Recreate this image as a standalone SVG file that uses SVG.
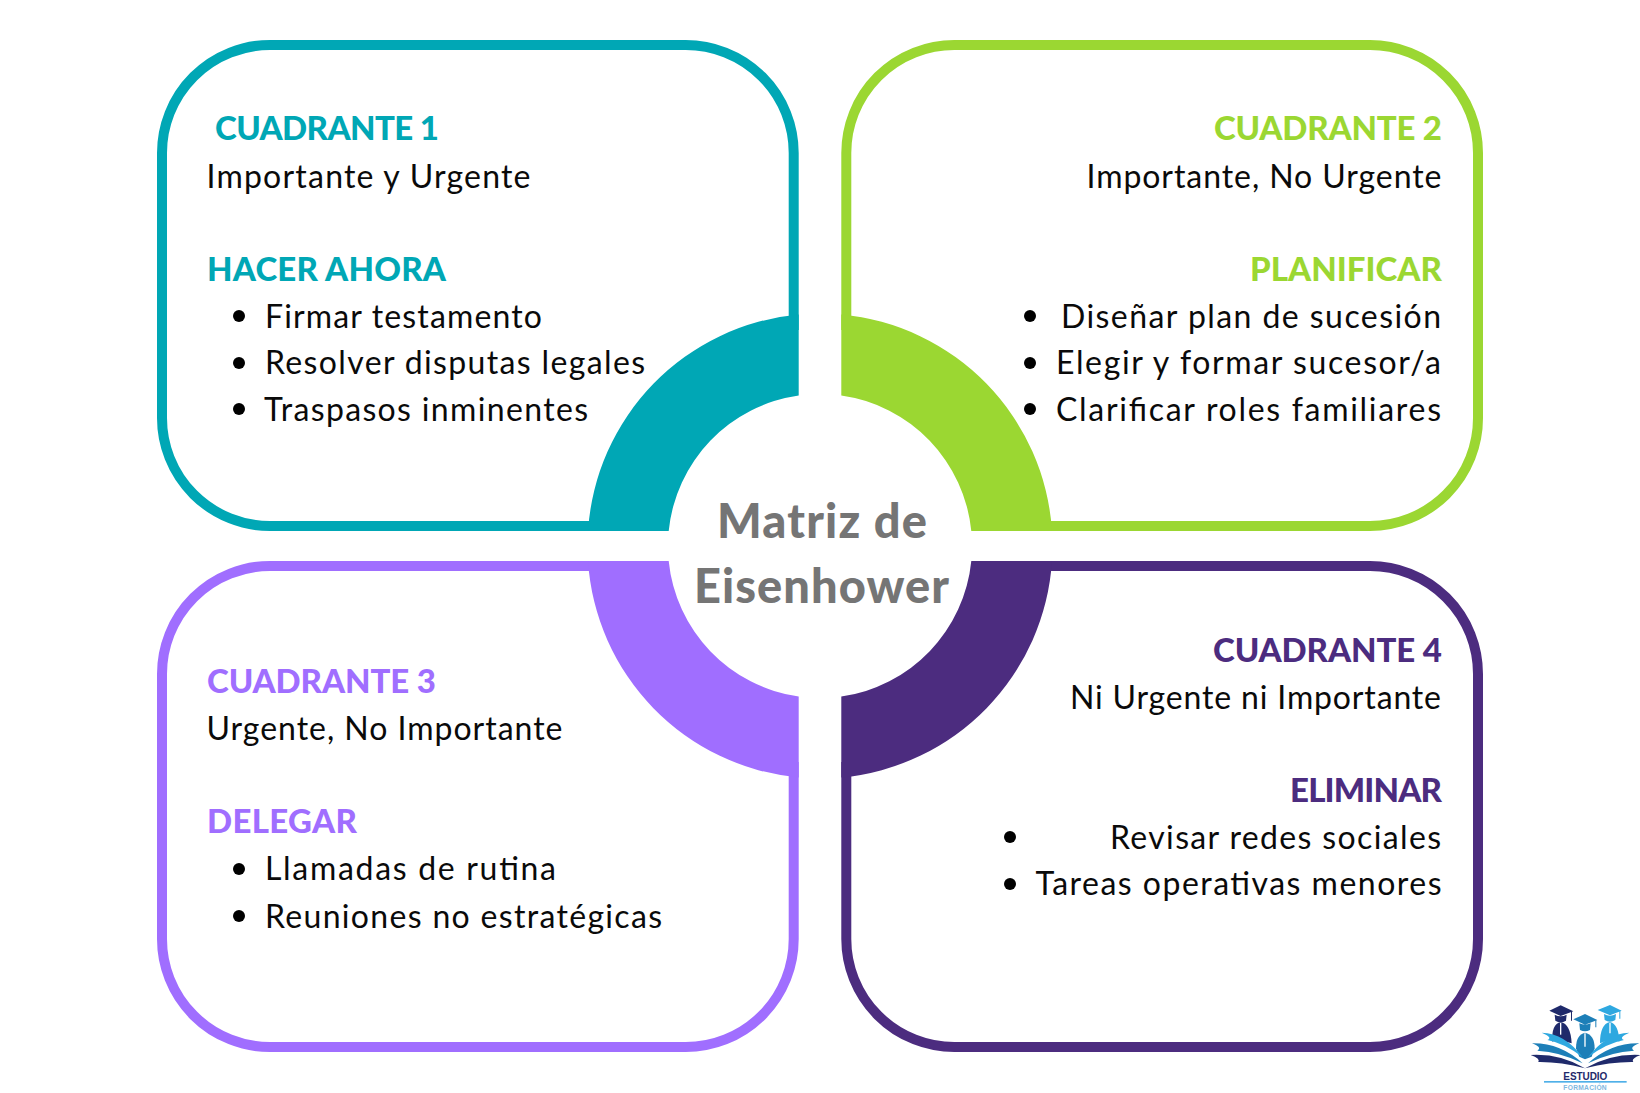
<svg xmlns="http://www.w3.org/2000/svg" width="1640" height="1093" viewBox="0 0 1640 1093">
<style>
.b{fill:none;stroke-width:10}
.t{font-family:"Lato","Liberation Sans",sans-serif;font-size:32px;fill:#0a0a0a;font-weight:400}
.h{font-family:"Lato","Liberation Sans",sans-serif;font-size:33px;font-weight:900}
.c{font-family:"Lato","Liberation Sans",sans-serif;font-size:47px;font-weight:900;fill:#757575}
.teal{fill:#00a7b5}.green{fill:#9bd732}.purple{fill:#a06eff}.dark{fill:#4c2c7f}
.navy{fill:#1f2a6b}.mid{fill:#1d7fb8}.sky{fill:#2ea8e0}
.tie{fill:none;stroke:#ffffff;stroke-width:4}
</style>
<rect width="1640" height="1093" fill="#ffffff"/>
<g id="cuadrante-1">
<path class="b" stroke="#00a7b5" d="M793.7 330V153A108 108 0 0 0 685.7 45H270A108 108 0 0 0 162 153V418A108 108 0 0 0 270 526H600"/>
<path class="teal" d="M798.7 314.5A232.5 232.5 0 0 0 588 531L668.7 531A152 152 0 0 1 798.7 395.5Z"/>
<text class="h teal" x="215" y="139.5" textLength="224">CUADRANTE 1</text>
<text class="t" x="206.5" y="188" textLength="324">Importante y Urgente</text>
<text class="h teal" x="207" y="280.5" textLength="239">HACER AHORA</text>
<circle cx="239" cy="316" r="6"/><circle cx="239" cy="363" r="6"/><circle cx="239" cy="409" r="6"/>
<text class="t" x="265" y="328" textLength="277">Firmar testamento</text>
<text class="t" x="265" y="374" textLength="380">Resolver disputas legales</text>
<text class="t" x="264" y="421" textLength="324">Traspasos inminentes</text>
</g>
<g id="cuadrante-2">
<path class="b" stroke="#9bd732" d="M846.3 330V153A108 108 0 0 1 954.3 45H1370A108 108 0 0 1 1478 153V418A108 108 0 0 1 1370 526H1040"/>
<path class="green" d="M841.3 314.5A232.5 232.5 0 0 1 1052 531L971.3 531A152 152 0 0 0 841.3 395.5Z"/>
<text class="h green" x="1214" y="139.5" textLength="228">CUADRANTE 2</text>
<text class="t" x="1086.5" y="188" textLength="355">Importante, No Urgente</text>
<text class="h green" x="1250" y="280.5" textLength="192">PLANIFICAR</text>
<circle cx="1030" cy="316" r="6"/><circle cx="1030" cy="363" r="6"/><circle cx="1030" cy="409" r="6"/>
<text class="t" x="1061" y="328" textLength="380">Diseñar plan de sucesión</text>
<text class="t" x="1056" y="374" textLength="385">Elegir y formar sucesor/a</text>
<text class="t" x="1056" y="421" textLength="385">Clarificar roles familiares</text>
</g>
<g id="cuadrante-3">
<path class="b" stroke="#a06eff" d="M793.7 762V939A108 108 0 0 1 685.7 1047H270A108 108 0 0 1 162 939V674A108 108 0 0 1 270 566H600"/>
<path class="purple" d="M798.7 777.5A232.5 232.5 0 0 1 588 561L668.7 561A152 152 0 0 0 798.7 696.5Z"/>
<text class="h purple" x="207" y="692.5" textLength="229">CUADRANTE 3</text>
<text class="t" x="206.5" y="740" textLength="356">Urgente, No Importante</text>
<text class="h purple" x="207" y="832.5" textLength="150">DELEGAR</text>
<circle cx="239" cy="869" r="6"/><circle cx="239" cy="916" r="6"/>
<text class="t" x="265" y="880" textLength="291">Llamadas de rutina</text>
<text class="t" x="265" y="927.5" textLength="397">Reuniones no estratégicas</text>
</g>
<g id="cuadrante-4">
<path class="b" stroke="#4c2c7f" d="M846.3 762V939A108 108 0 0 0 954.3 1047H1370A108 108 0 0 0 1478 939V674A108 108 0 0 0 1370 566H1040"/>
<path class="dark" d="M841.3 777.5A232.5 232.5 0 0 0 1052 561L971.3 561A152 152 0 0 1 841.3 696.5Z"/>
<text class="h dark" x="1213" y="661.5" textLength="229">CUADRANTE 4</text>
<text class="t" x="1070" y="709" textLength="371">Ni Urgente ni Importante</text>
<text class="h dark" x="1290" y="801.5" textLength="152">ELIMINAR</text>
<circle cx="1010" cy="837" r="6"/><circle cx="1010" cy="884" r="6"/>
<text class="t" x="1110" y="849" textLength="331">Revisar redes sociales</text>
<text class="t" x="1035.5" y="895" textLength="406">Tareas operativas menores</text>
</g>
<g id="centro">
<text class="c" x="717" y="538" textLength="210">Matriz de</text>
<text class="c" x="694" y="602.5" textLength="255">Eisenhower</text>
</g>
<g id="logo" transform="translate(1520 1000) scale(.3333)">
<path class="navy" d="M97 125Q94 72 122 66Q152 72 155 130L140 126L108 120Z"/>
<path class="tie" d="M122 68V104"/>
<path class="navy" d="M88 32L122 16L160 34L122 48ZM104 44Q122 54 140 44L138 62Q122 72 106 62Z"/>
<path class="navy" d="M153 34H156V62H153Z"/>
<path class="mid" d="M168 145Q168 104 195 98Q224 104 224 145L215 170L195 178L178 170Z"/>
<path class="tie" d="M195 100V140"/>
<path class="mid" d="M160 58L195 42L232 60L195 74ZM178 70Q195 78 212 70L210 90Q195 98 180 90Z"/>
<path class="mid" d="M226 60H229V82H226Z"/>
<path class="sky" d="M240 130Q240 72 270 66Q296 72 298 125L285 118L252 125Z"/>
<path class="tie" d="M270 68V100"/>
<path class="sky" d="M233 30L270 15L305 32L270 46ZM252 42Q270 52 288 42L286 60Q270 70 254 60Z"/>
<path class="sky" d="M298 32H301V56H298Z"/>
<path class="sky" d="M65 98Q135 100 188 172Q135 130 82 120Q100 112 65 98Z"/>
<path class="mid" d="M36 130Q120 128 188 190Q120 155 52 152Q68 142 36 130Z"/>
<path class="navy" d="M32 165Q120 160 195 205Q120 185 55 186Q62 176 32 165Z"/>
<path class="sky" d="M328 98Q258 100 204 172Q258 130 312 120Q294 112 328 98Z"/>
<path class="mid" d="M358 130Q274 128 204 190Q274 155 342 152Q326 142 358 130Z"/>
<path class="navy" d="M362 165Q274 160 195 205Q274 185 340 186Q332 176 362 165Z"/>
<text x="130" y="240" font-family="'Liberation Sans',sans-serif" font-size="30" font-weight="700" fill="#1f2a6b" textLength="132">ESTUDIO</text>
<rect x="72" y="243" width="248" height="5" fill="#4fb0e8"/>
<text x="130" y="271" font-family="'Liberation Sans',sans-serif" font-size="20" font-weight="700" fill="#7fb8e0" textLength="130">FORMACIÓN</text>
</g>
</svg>
